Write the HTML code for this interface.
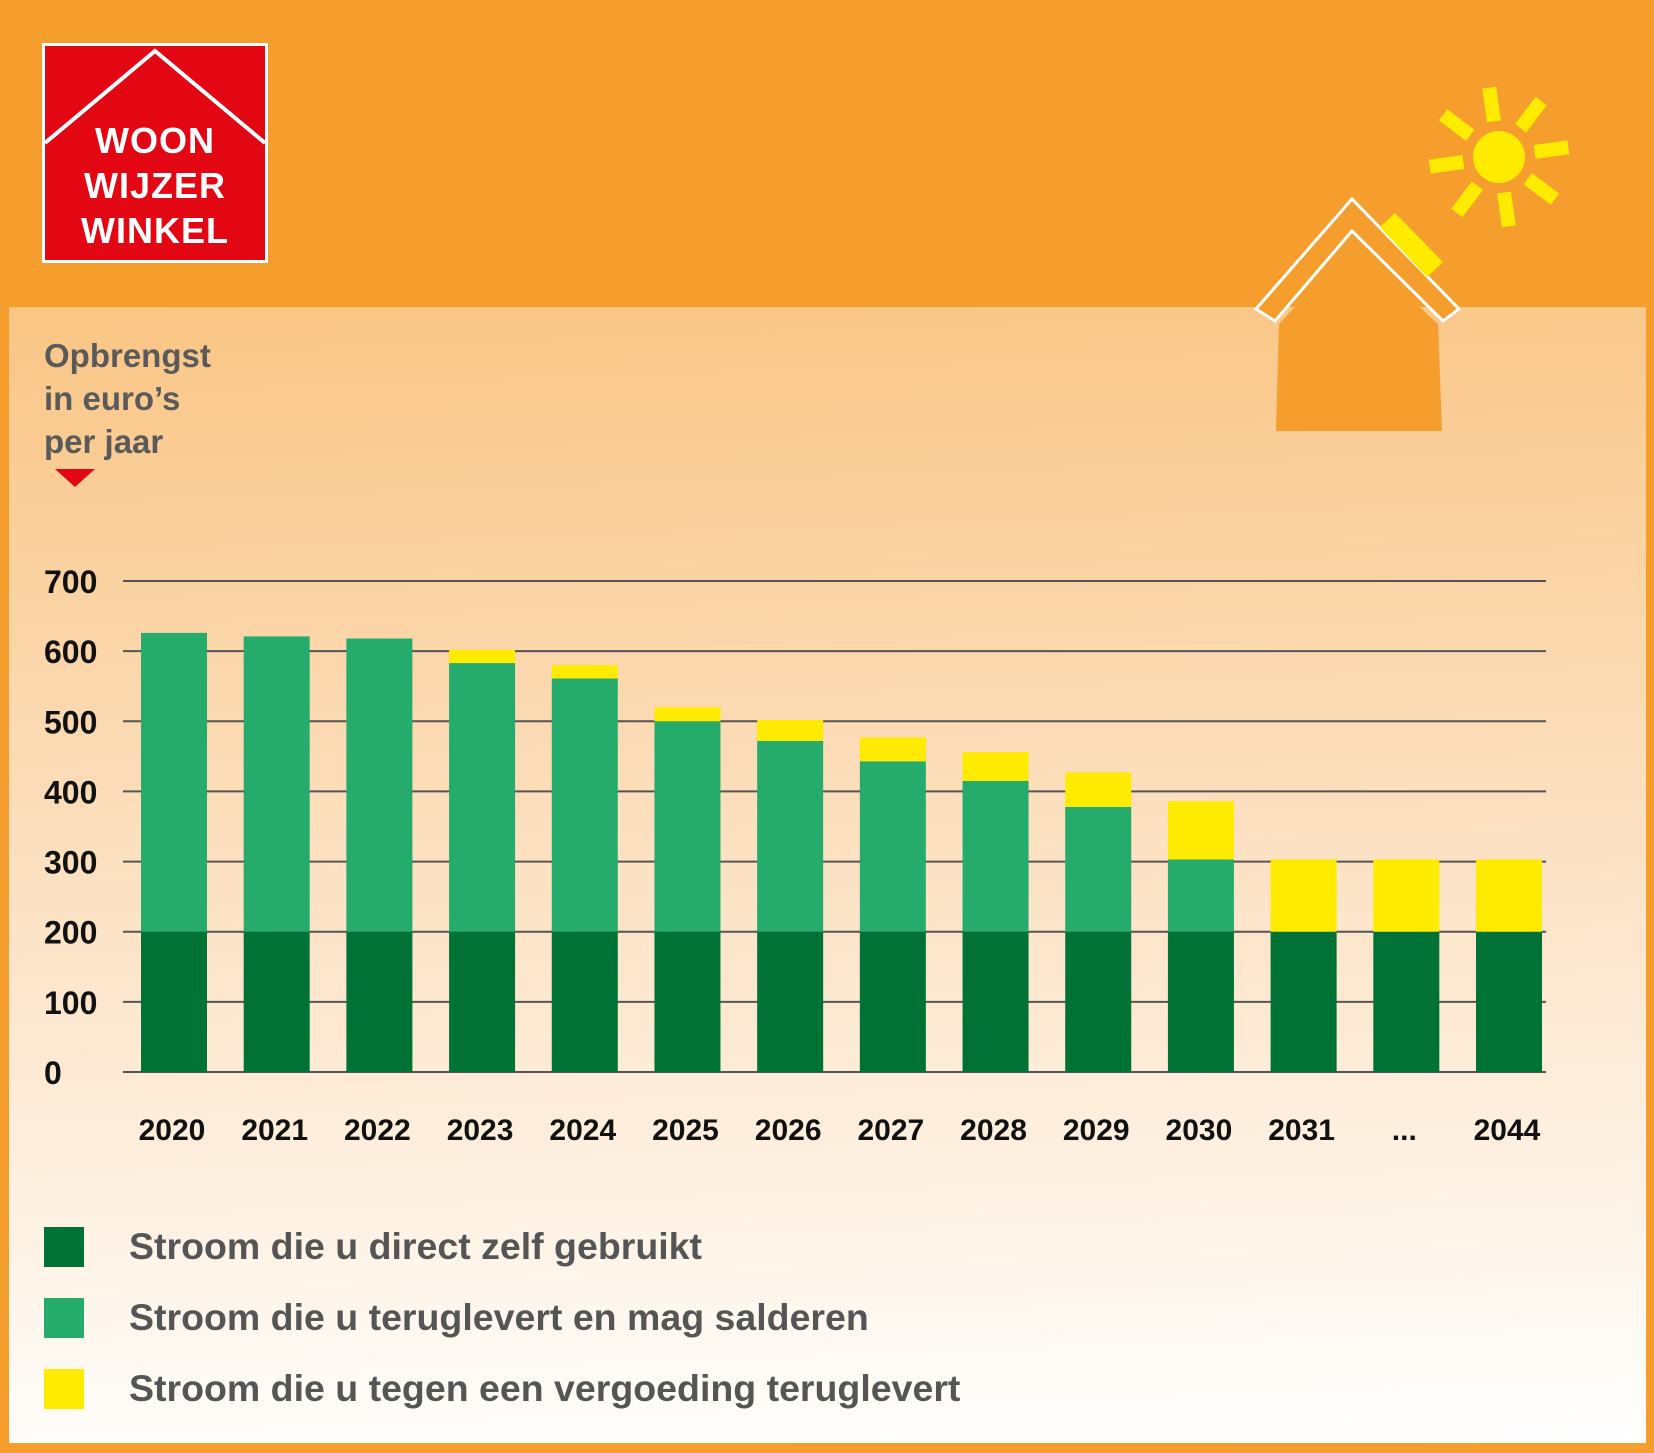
<!DOCTYPE html>
<html><head><meta charset="utf-8"><style>
html,body{margin:0;padding:0}
body{width:1654px;height:1453px;background:#F59E2D;position:relative;overflow:hidden;font-family:"Liberation Sans",sans-serif}
#panel{position:absolute;left:9px;top:307px;width:1637px;height:1136px;background:linear-gradient(178deg,#F9C584 0%,#FCE2C4 50%,#FFFFFF 100%)}
.t{position:absolute;font-weight:bold}
</style></head><body>
<div id="panel"></div>
<div style="position:absolute;left:42px;top:43px;width:220px;height:214px;background:#E30613;border:3px solid #fff;">
<svg width="220" height="214" style="position:absolute;left:0;top:0"><polyline points="0,97 110,5 220,97" fill="none" stroke="#fff" stroke-width="4"/></svg>
<div class="t" style="left:0;width:220px;text-align:center;top:72px;color:#fff;font-size:36px;line-height:45px;letter-spacing:1px">WOON<br>WIJZER<br>WINKEL</div>
</div>
<svg width="1654" height="1453" style="position:absolute;left:0;top:0">
<g>
<polygon points="1279,324 1352,245 1438,324 1442,431 1276,431" fill="#F59E2D"/>
<polygon points="1256,309 1352,199 1459,309 1443,321 1352,231 1275,321" fill="#F59E2D" stroke="#fff" stroke-width="3"/>
<polygon points="1380,227 1395,213 1443,262 1427,277" fill="#FFEB00"/>
</g>
<g fill="#FFEB00">
<circle cx="1499" cy="157" r="26"/>
<g transform="translate(1499,157)">
<rect x="-7" y="-70" width="14" height="34" transform="rotate(-8)"/>
<rect x="-7" y="-70" width="14" height="34" transform="rotate(37)"/>
<rect x="-7" y="-70" width="14" height="34" transform="rotate(82)"/>
<rect x="-7" y="-70" width="14" height="34" transform="rotate(127)"/>
<rect x="-7" y="-70" width="14" height="34" transform="rotate(172)"/>
<rect x="-7" y="-70" width="14" height="34" transform="rotate(217)"/>
<rect x="-7" y="-70" width="14" height="34" transform="rotate(262)"/>
<rect x="-7" y="-70" width="14" height="34" transform="rotate(307)"/>
</g></g>
<polygon points="55,469 95,469 75,487" fill="#E30613"/>
<g id="chart"></g>
</svg>
<div class="t" style="left:44px;top:334px;font-size:33px;line-height:43px;color:#5a5a5a">Opbrengst<br>in euro’s<br>per jaar</div>
<div>
<div style="position:absolute;left:44px;top:1227px;width:40px;height:40px;background:#007236"></div>
<div style="position:absolute;left:44px;top:1298px;width:40px;height:40px;background:#25AB6C"></div>
<div style="position:absolute;left:44px;top:1369px;width:40px;height:40px;background:#FFEB00"></div>
<div class="t" style="left:129px;top:1225px;font-size:37.5px;color:#555">Stroom die u direct zelf gebruikt</div>
<div class="t" style="left:129px;top:1296px;font-size:37.5px;color:#555">Stroom die u teruglevert en mag salderen</div>
<div class="t" style="left:129px;top:1367px;font-size:37.5px;color:#555">Stroom die u tegen een vergoeding teruglevert</div>
</div>
<script>
const categories=["2020","2021","2022","2023","2024","2025","2026","2027","2028","2029","2030","2031","...","2044"];
const directValues=[200,200,200,200,200,200,200,200,200,200,200,200,200,200];
const salderenValues=[426,421,418,383,361,300,272,243,215,178,103,0,0,0];
const vergoedingValues=[0,0,0,19,19,20,30,34,41,49,83,103,103,103];
const yTicks=[0,100,200,300,400,500,600,700];
const NS="http://www.w3.org/2000/svg";
const g=document.getElementById('chart');
function y(v){return 1072-v*(1072-581)/700;}
function xc(i){return 174+i*(1509-174)/(categories.length-1);}
const bw=66;
function mk(tag,attrs){const e=document.createElementNS(NS,tag);for(const k in attrs)e.setAttribute(k,attrs[k]);g.appendChild(e);return e;}
yTicks.forEach(t=>{
 const l=mk('line',{x1:123,x2:1546,y1:y(t),y2:y(t),stroke:'#555','stroke-width':2});
 
 
 const tx=mk('text',{x:44,y:y(t)+12,'font-size':32,'font-weight':'bold',fill:'#111','font-family':'Liberation Sans, sans-serif'});
 tx.textContent=t;
 
 
});
categories.forEach((c,i)=>{
 const x=xc(i)-bw/2;
 let base=0;
 [[directValues,'#007236','direct'],[salderenValues,'#25AB6C','salderen'],[vergoedingValues,'#FFEB00','vergoeding']].forEach(([arr,col,nm])=>{
  const v=arr[i];
  if(v>0){
   const r=mk('rect',{x:x,y:y(base+v),width:bw,height:y(base)-y(base+v),fill:col});
   
   
  }
  base+=v;
 });
 const tx=mk('text',{x:xc(i)-2,y:1140,'font-size':30,'font-weight':'bold',fill:'#111','text-anchor':'middle','font-family':'Liberation Sans, sans-serif'});
 tx.textContent=c;
 
 
});
</script>
</body></html>
